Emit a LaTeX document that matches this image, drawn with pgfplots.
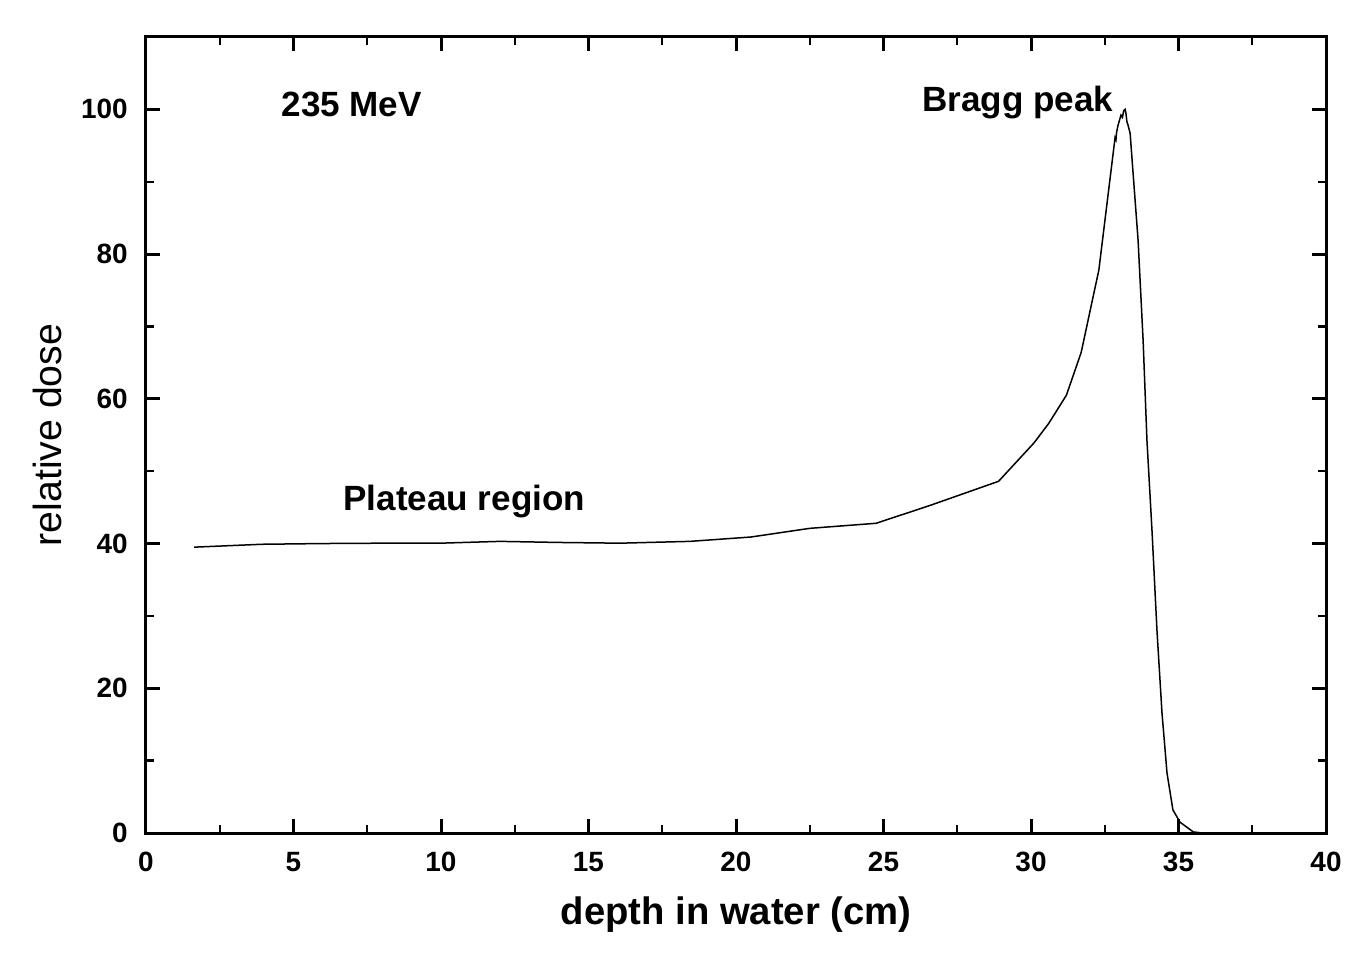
\documentclass[border=0pt]{standalone}
\usepackage{pgfplots}
\pgfplotsset{compat=1.18}
\usepackage{fontspec}
\setmainfont{Liberation Sans}

% depth-dose curve of a 235 MeV proton beam in water
\pgfplotstableread{
depth dose
1.63 39.5
3.93 39.9
6.0 40.0
8.0 40.05
9.97 40.05
12.0 40.3
14.0 40.15
16.07 40.05
18.44 40.3
20.5 40.9
22.5 42.1
24.75 42.8
26.6 45.3
28.9 48.6
30.1 53.9
30.6 56.6
31.2 60.5
31.7 66.4
32.3 77.8
32.85 96.1
32.88 95.8
32.9 96.8
32.95 97.8
33.05 99.2
33.1 98.9
33.14 99.8
33.19 100
33.22 99.4
33.25 98.3
33.29 97.8
33.36 96.7
33.46 91.2
33.63 81.9
33.80 68.1
33.93 54.3
34.10 41.9
34.27 28.0
34.44 16.6
34.61 8.3
34.81 3.2
35.05 1.5
35.5 0.15
35.8 0
}\dosetable

\begin{document}
\begin{tikzpicture}
\begin{axis}[
  scale only axis,
  width=590bp, height=398bp,
  xmin=0, xmax=40, ymin=0, ymax=110,
  xtick={0,5,...,40}, ytick={0,20,...,100},
  minor x tick num=1, minor y tick num=1,
  tick align=inside,
  major tick length=7bp, minor tick length=4bp,
  axis line style={line width=1.5bp},
  every major tick/.style={line width=1.5bp, black},
  every minor tick/.style={line width=1.2bp, black},
  /pgf/number format/assume math mode=true,
  tick label style={font=\fontsize{14}{16}\selectfont\bfseries, inner sep=0pt},
  xticklabel style={anchor=north, yshift=-9.5bp},
  yticklabel style={anchor=east, xshift=-9bp},
  xlabel={depth in water (cm)},
  ylabel={relative dose},
  xlabel style={font=\fontsize{19.2}{22}\selectfont\bfseries, at={(axis description cs:0.5,-0.103)}, anchor=center},
  ylabel style={font=\fontsize{19.7}{22}\selectfont, at={(axis description cs:-0.0839,0.5)}, anchor=center},
  clip=false,
]
\addplot[black, line width=0.75bp] table[x=depth, y=dose] {\dosetable};
\node[anchor=base west, inner sep=0pt, font=\fontsize{17.6}{20}\selectfont\bfseries] at (axis cs:4.58,99.0) {235 MeV};
\node[anchor=base west, inner sep=0pt, font=\fontsize{17.6}{20}\selectfont\bfseries] at (axis cs:6.68,44.6) {Plateau region};
\node[anchor=base west, inner sep=0pt, font=\fontsize{17.6}{20}\selectfont\bfseries] at (axis cs:26.3,99.7) {Bragg peak};
\end{axis}
\pgfresetboundingbox
\path (-73bp,-62.5bp) rectangle (602.5bp,416.5bp);
\end{tikzpicture}
\end{document}
